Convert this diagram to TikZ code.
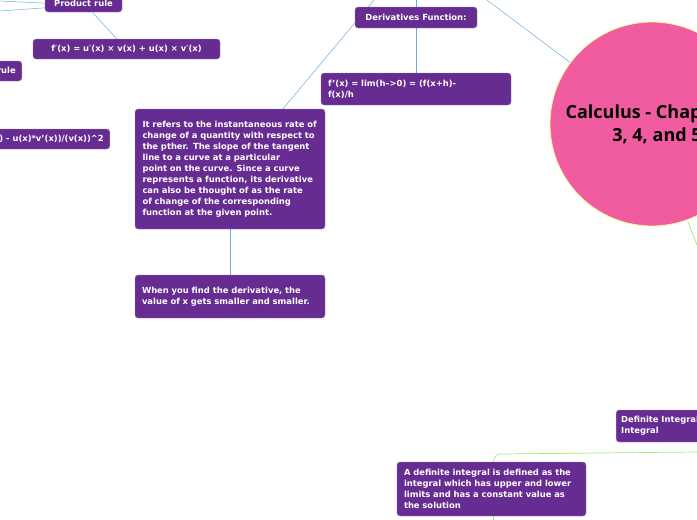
\documentclass[tikz,border=0pt]{standalone}
\usepackage{fontspec}
\setmainfont{DejaVu Sans}
\newfontfamily\titlefont{Open Sans}
\definecolor{boxpurple}{HTML}{662C91}
\definecolor{pinkc}{HTML}{F05C9F}
\definecolor{bluel}{HTML}{6AAED6}
\definecolor{greenl}{HTML}{9AEE7A}
\newcommand\nohyph{\hyphenpenalty=10000\relax}
\tikzset{
  pbox/.style={fill=boxpurple, draw=boxpurple!60!white, rounded corners=3pt, text=white, font=\bfseries\fontsize{8.4}{11}\selectfont\nohyph, inner sep=0pt, align=left},
  bl/.style={draw=bluel, line width=0.5pt},
  gl/.style={draw=greenl, line width=0.7pt}
}
\begin{document}
\begin{tikzpicture}[x=1pt,y=-1pt]
\useasboundingbox (0,0) rectangle (697,520);
\clip (0,0) rectangle (697,520);
\coordinate (pl1) at (0,1);
\coordinate (pl2) at (0,11);
\coordinate (dtop) at (374,0);
\coordinate (dtop2) at (416,0);
\coordinate (ctop) at (487,0);
\coordinate (gR) at (697,452);
\coordinate (gB) at (493,520);
\coordinate (prodlow) at (93,13);
\coordinate (fprodtop) at (117,39);
\coordinate (insttop) at (282,110);
\coordinate (calbot) at (688,222);
\coordinate (calbot2) at (697,245);
% connectors
\draw[bl] (84,5) -- (pl1);
\draw[bl] (84,5) -- (pl2);
\draw[bl] (prodlow) -- (fprodtop);
\draw[bl] (insttop) -- (dtop);
\draw[bl] (416,17) -- (dtop2);
\draw[bl] (416,17) -- (416,89);
\draw[bl] (ctop) -- (652,124);
\draw[bl] (230,200) -- (230,296);
\draw[gl] (calbot) -- (calbot2);
\draw[gl] (gR) -- (500,454) to[out=180,in=90] (493,470);
\draw[gl] (493,500) -- (gB);
% nodes
\node[pbox, minimum width=77pt, minimum height=17pt] (prod) at (83.5,3.5) {Product rule};
\node[pbox, minimum width=187pt, minimum height=20pt] (fprod) at (126.5,49) {f′(x) = u′(x) × v(x) + u(x) × v′(x)};
\node[pbox, minimum height=20pt, anchor=east, inner xsep=6pt] (rule) at (22,71) {Quotient rule};
\node[pbox, minimum height=20pt, anchor=east, inner xsep=6pt] (quot) at (110,139) {f'(x) = (v(x)*u'(x) - u(x)*v'(x))/(v(x))\textasciicircum 2};
\node[pbox, minimum width=122pt, minimum height=21pt] (deriv) at (416,17.5) {Derivatives Function:};
\node[pbox, minimum width=190pt, minimum height=32pt, text width=176pt] (lim) at (416,89) {f'(x) = lim(h-->0) = (f(x+h)-\\f(x)/h};
\node[pbox, minimum width=190pt, minimum height=120pt, text width=175pt] (inst) at (230,169) {It refers to the instantaneous rate of change of a quantity with respect to the pther. The slope of the tangent line to a curve at a particular point on the curve. Since a curve represents a function, its derivative can also be thought of as the rate of change of the corresponding function at the given point.};
\node[pbox, minimum width=190pt, minimum height=43pt, text width=176pt] (when) at (230,296.5) {When you find the derivative, the value of x gets smaller and smaller.};
\node[pbox, minimum width=100pt, minimum height=32pt, text width=90pt, anchor=west] (defi) at (616,426) {Definite Integral\\Integral};
\node[pbox, minimum width=189pt, minimum height=54pt, text width=175pt] (deftext) at (491.5,489) {A definite integral is defined as the integral which has upper and lower limits and has a constant value as the solution};
\node[circle, fill=pinkc, draw=yellow!40!white, line width=0.8pt, minimum size=204pt, inner sep=0pt] (cal) at (652,124) {};
\node[font=\titlefont\bfseries\fontsize{18}{23}\selectfont, align=center] (title) at (657,124) {Calculus - Chapter 2,\\3, 4, and 5};
\end{tikzpicture}
\end{document}
